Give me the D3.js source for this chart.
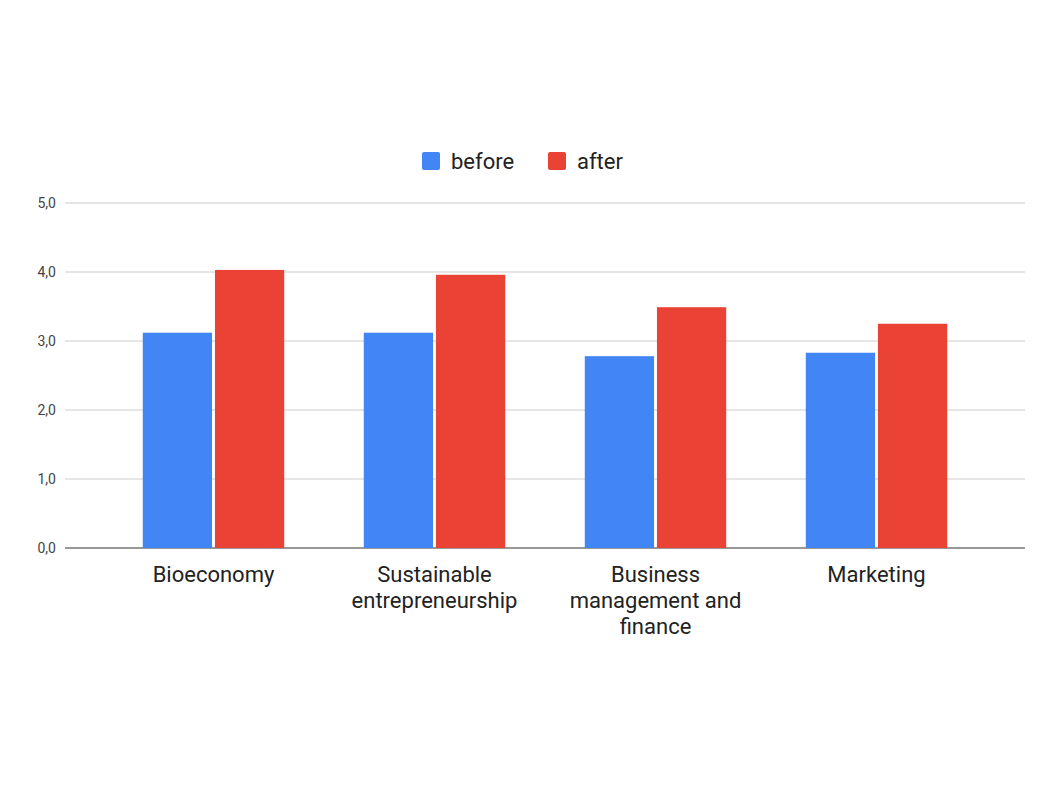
<!DOCTYPE html>
<html>
<head>
<meta charset="utf-8">
<script src="https://cdn.jsdelivr.net/npm/d3@7"></script>
<style>
body { margin: 0; background: #fff; }
text { font-family: Roboto, Arial, sans-serif; }
</style>
</head>
<body>
<div id="vis"></div>
<script>
const categories = ["Bioeconomy", "Sustainable entrepreneurship", "Business management and finance", "Marketing"];
const catLines = [["Bioeconomy"], ["Sustainable", "entrepreneurship"], ["Business", "management and", "finance"], ["Marketing"]];
const series = ["before", "after"];
const before = [3.12, 3.12, 2.78, 2.83];
const after = [4.03, 3.96, 3.49, 3.25];
const yTicks = [0, 1, 2, 3, 4, 5];
const colors = ["#4285f4", "#ea4335"];

const WIDTH = 1051, HEIGHT = 788;
const svg = d3.select("#vis").append("svg").attr("width", WIDTH).attr("height", HEIGHT);

const y = d3.scaleLinear().domain([0, 5]).range([548, 203]);
const x = d3.scaleBand().domain(categories).range([103, 987]).paddingInner(0.36).paddingOuter(0.18);
const xs = d3.scaleBand().domain(series).range([0, x.bandwidth()]).paddingInner(0.04);

// grid
svg.append("g").selectAll("line").data(yTicks).join("line")
  .attr("x1", 65).attr("x2", 1025)
  .attr("y1", d => y(d)).attr("y2", d => y(d))
  .attr("stroke", d => d === 0 ? "#333" : "#ccc").attr("stroke-width", 1);

svg.append("g").selectAll("text").data(yTicks).join("text")
  .attr("x", 56).attr("y", d => y(d) + 5)
  .attr("text-anchor", "end").attr("font-size", 14).attr("fill", "#444")
  .text(d => d.toFixed(1).replace(".", ","));

const data = categories.map((c, i) => ({ c, vals: [before[i], after[i]] }));
const g = svg.append("g").selectAll("g").data(data).join("g")
  .attr("transform", d => `translate(${x(d.c)},0)`);
g.selectAll("rect").data(d => d.vals.map((v, j) => ({ s: series[j], v, j }))).join("rect")
  .attr("x", d => xs(d.s)).attr("width", xs.bandwidth())
  .attr("y", d => y(d.v)).attr("height", d => y(0) - y(d.v))
  .attr("fill", d => colors[d.j]);

// category labels
svg.append("g").selectAll("text").data(categories).join("text")
  .attr("x", d => x(d) + x.bandwidth() / 2).attr("y", 582)
  .attr("text-anchor", "middle").attr("font-size", 22).attr("fill", "#222")
  .each(function (d, i) {
    d3.select(this).selectAll("tspan").data(catLines[i]).join("tspan")
      .attr("x", x(d) + x.bandwidth() / 2).attr("dy", (t, k) => k === 0 ? 0 : 26).text(t => t);
  });

// legend
const legend = svg.append("g");
const lx = [422, 548];
series.forEach((s, i) => {
  legend.append("rect").attr("x", lx[i]).attr("y", 152).attr("width", 18).attr("height", 18).attr("rx", 2).attr("fill", colors[i]);
  legend.append("text").attr("x", lx[i] + 29).attr("y", 169).attr("font-size", 22).attr("fill", "#222").text(s);
});
</script>
</body>
</html>
